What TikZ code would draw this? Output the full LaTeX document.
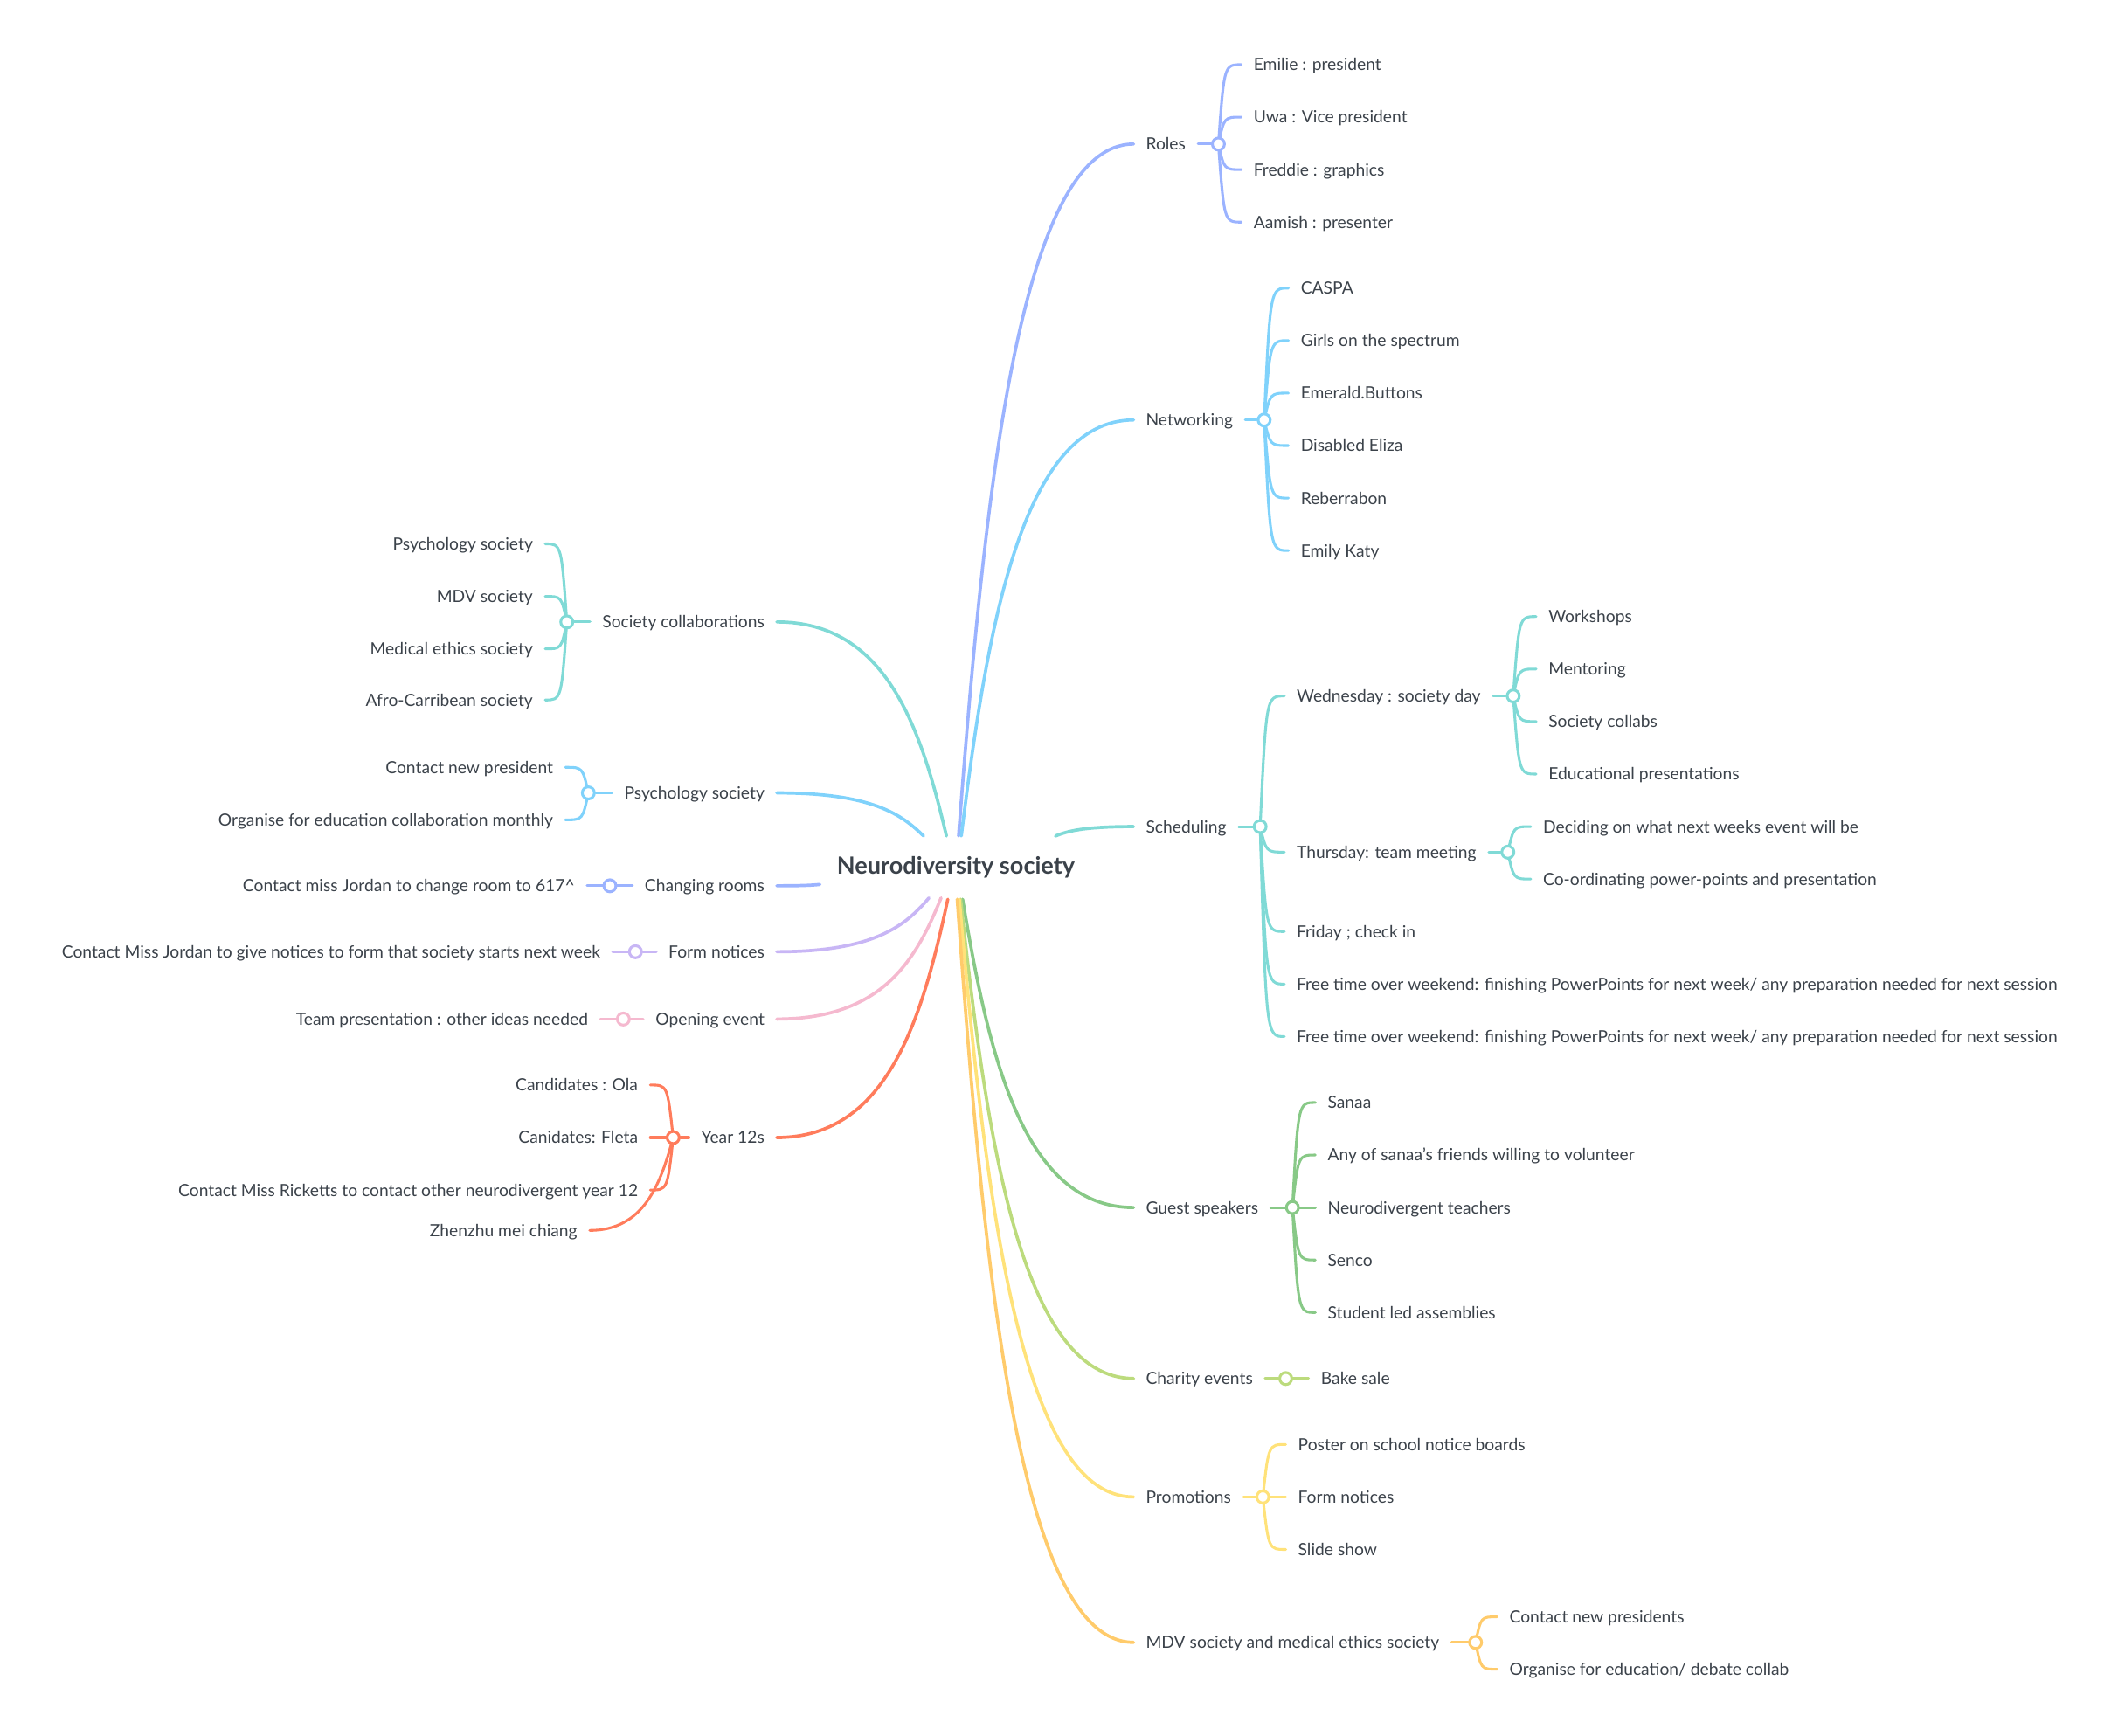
\documentclass[tikz,border=0pt]{standalone}
\usepackage{fontspec}
\setmainfont{Lato}
\usetikzlibrary{calc}
\pgfdeclarelayer{bg}
\pgfsetlayers{bg,main}
\definecolor{cblue}{HTML}{9BB3FF}
\definecolor{csky}{HTML}{80D2FB}
\definecolor{cteal}{HTML}{80DAD6}
\definecolor{cpurple}{HTML}{C8B6F5}
\definecolor{cpink}{HTML}{F5B9CF}
\definecolor{cred}{HTML}{FF7C5C}
\definecolor{cgreen}{HTML}{88C987}
\definecolor{clime}{HTML}{BCDB7D}
\definecolor{cyellow}{HTML}{FFE27A}
\definecolor{corange}{HTML}{FFCB6B}
\definecolor{txtc}{HTML}{3B424A}
\newcommand\mlink[3]{\draw[mainln,#1] let \p1=(#2), \p2=(#3) in (\p1) .. controls ({\x1+0.15*(\x2-\x1)},{\y1+0.5*(\y2-\y1)}) and ({\x1+0.35*(\x2-\x1)},\y2) .. (\p2);}
\newcommand\slink[3]{\draw[brln,#1] let \p1=(#2), \p2=(#3) in (\p1) .. controls ({\x1+0.15*(\x2-\x1)},{\y1+0.5*(\y2-\y1)}) and ({\x1+0.35*(\x2-\x1)},\y2) .. (\p2);}
\newcommand\blink[3]{\draw[brln,#1] let \p1=(#2), \p2=(#3) in (\p1) .. controls ({\x1+0.25*(\x2-\x1)},\y2) .. (\p2);}
\tikzset{
  txt/.style={font=\fontsize{12.5}{14}\selectfont, text=txtc, inner xsep=9pt, inner ysep=2pt, text height=9pt, text depth=0pt},
  rt/.style={txt, anchor=west},
  lt/.style={txt, anchor=east},
  title/.style={font=\fontsize{17.6}{19}\selectfont\bfseries, text=txtc, inner sep=4pt},
  bul/.style={circle, draw=#1, fill=white, line width=2pt, minimum size=9pt, inner sep=0pt},
  mainln/.style={line width=2.4pt, line cap=round},
  brln/.style={line width=2pt, line cap=round}
}
\begin{document}
\begin{tikzpicture}[x=1pt,y=-1pt]
\useasboundingbox (0,0) rectangle (1568,1289);
% centre
\node[title] (c) at (710,644) {Neurodiversity society};
\coordinate (s-roles) at (712,621);
\coordinate (s-net) at (714,621);
\coordinate (s-sched) at (784,621);
\coordinate (s-soc) at (703,621);
\coordinate (s-psy) at (686,621);
\coordinate (s-chg) at (609,657);
\coordinate (s-form) at (690,667);
\coordinate (s-open) at (699,667);
\coordinate (s-y12) at (704,668);
\coordinate (s-mdv) at (711,668);
\coordinate (s-promo) at (712.5,668);
\coordinate (s-char) at (713.5,668);
\coordinate (s-guest) at (715,668);
% right parents
\node[rt] (roles) at (842,107) {Roles};
\node[rt] (net) at (842,312) {Networking};
\node[rt] (sched) at (842,614) {Scheduling};
\node[rt] (guest) at (842,897) {Guest speakers};
\node[rt] (char) at (842,1024) {Charity events};
\node[rt] (promo) at (842,1112) {Promotions};
\node[rt] (mdv) at (842,1220) {MDV society and medical ethics society};
% bullets right
\node[bul=cblue] (rb) at (905,107) {};
\node[bul=csky] (nb) at (939,312) {};
\node[bul=cteal] (sb) at (936,614) {};
\node[bul=cgreen] (gb) at (960,897) {};
\node[bul=clime] (chb) at (955,1024) {};
\node[bul=cyellow] (pb) at (938,1112) {};
\node[bul=corange] (mb) at (1096,1220) {};
% roles children
\node[rt] (r1) at (922,48) {Emilie : president};
\node[rt] (r2) at (922,87) {Uwa : Vice president};
\node[rt] (r3) at (922,126) {Freddie : graphics};
\node[rt] (r4) at (922,165) {Aamish : presenter};
% networking children
\node[rt] (n1) at (957,214) {CASPA};
\node[rt] (n2) at (957,253) {Girls on the spectrum};
\node[rt] (n3) at (957,292) {Emerald.Buttons};
\node[rt] (n4) at (957,331) {Disabled Eliza};
\node[rt] (n5) at (957,370) {Reberrabon};
\node[rt] (n6) at (957,409) {Emily Katy};
% scheduling children
\node[rt] (sc1) at (954,517) {Wednesday : society day};
\node[rt] (sc2) at (954,633) {Thursday: team meeting};
\node[rt] (sc3) at (954,692) {Friday ; check in};
\node[rt] (sc4) at (954,731) {Free time over weekend: finishing PowerPoints for next week/ any preparation needed for next session};
\node[rt] (sc5) at (954,770) {Free time over weekend: finishing PowerPoints for next week/ any preparation needed for next session};
\node[bul=cteal] (wb) at (1124,517) {};
\node[bul=cteal] (tb) at (1120,633) {};
\node[rt] (w1) at (1141,458) {Workshops};
\node[rt] (w2) at (1141,497) {Mentoring};
\node[rt] (w3) at (1141,536) {Society collabs};
\node[rt] (w4) at (1141,575) {Educational presentations};
\node[rt] (t1) at (1137,614) {Deciding on what next weeks event will be};
\node[rt] (t2) at (1137,653) {Co-ordinating power-points and presentation};
% guest speakers children
\node[rt] (g1) at (977,819) {Sanaa};
\node[rt] (g2) at (977,858) {Any of sanaa’s friends willing to volunteer};
\node[rt] (g3) at (977,897) {Neurodivergent teachers};
\node[rt] (g4) at (977,936) {Senco};
\node[rt] (g5) at (977,975) {Student led assemblies};
% charity
\node[rt] (ch1) at (972,1024) {Bake sale};
% promotions
\node[rt] (p1) at (955,1073) {Poster on school notice boards};
\node[rt] (p2) at (955,1112) {Form notices};
\node[rt] (p3) at (955,1151) {Slide show};
% mdv
\node[rt] (m1) at (1112,1201) {Contact new presidents};
\node[rt] (m2) at (1112,1240) {Organise for education/ debate collab};
% left parents
\node[lt] (soc) at (577,462) {Society collaborations};
\node[lt] (psy) at (577,589) {Psychology society};
\node[lt] (chg) at (577,658) {Changing rooms};
\node[lt] (form) at (577,707) {Form notices};
\node[lt] (open) at (577,757) {Opening event};
\node[lt] (y12) at (577,845) {Year 12s};
\node[bul=cteal] (socb) at (421,462) {};
\node[bul=csky] (psyb) at (437,589) {};
\node[bul=cblue] (chgb) at (453,658) {};
\node[bul=cpurple] (formb) at (472,707) {};
\node[bul=cpink] (openb) at (463,757) {};
\node[bul=cred] (y12b) at (500,845) {};
% left children
\node[lt] (so1) at (405,404) {Psychology society};
\node[lt] (so2) at (405,443) {MDV society};
\node[lt] (so3) at (405,482) {Medical ethics society};
\node[lt] (so4) at (405,520) {Afro-Carribean society};
\node[lt] (ps1) at (420,570) {Contact new president};
\node[lt] (ps2) at (420,609) {Organise for education collaboration monthly};
\node[lt] (cg1) at (436,658) {Contact miss Jordan to change room to 617\textasciicircum};
\node[lt] (fo1) at (455,707) {Contact Miss Jordan to give notices to form that society starts next week};
\node[lt] (op1) at (446,757) {Team presentation : other ideas needed};
\node[lt] (y1) at (483,806) {Candidates : Ola};
\node[lt] (y2) at (483,845) {Canidates: Fleta};
\node[lt] (y3) at (483,884) {Contact Miss Ricketts to contact other neurodivergent year 12};
\node[lt] (y4) at (438,914) {Zhenzhu mei chiang};
% connectors
\begin{pgfonlayer}{bg}
\mlink{cblue}{s-roles}{roles.west}
\mlink{csky}{s-net}{net.west}
\mlink{cteal}{s-sched}{sched.west}
\mlink{cgreen}{s-guest}{guest.west}
\mlink{clime}{s-char}{char.west}
\mlink{cyellow}{s-promo}{promo.west}
\mlink{corange}{s-mdv}{mdv.west}
\mlink{cteal}{s-soc}{soc.east}
\mlink{csky}{s-psy}{psy.east}
\mlink{cblue}{s-chg}{chg.east}
\mlink{cpurple}{s-form}{form.east}
\mlink{cpink}{s-open}{open.east}
\mlink{cred}{s-y12}{y12.east}
% stubs
\draw[brln,cblue] (roles.east) -- (rb);
\draw[brln,csky] (net.east) -- (nb);
\draw[brln,cteal] (sched.east) -- (sb);
\draw[brln,cteal] (sc1.east) -- (wb);
\draw[brln,cteal] (sc2.east) -- (tb);
\draw[brln,cgreen] (guest.east) -- (gb);
\draw[brln,clime] (char.east) -- (chb);
\draw[brln,cyellow] (promo.east) -- (pb);
\draw[brln,corange] (mdv.east) -- (mb);
\draw[brln,cteal] (soc.west) -- (socb);
\draw[brln,csky] (psy.west) -- (psyb);
\draw[brln,cblue] (chg.west) -- (chgb);
\draw[brln,cpurple] (form.west) -- (formb);
\draw[brln,cpink] (open.west) -- (openb);
\draw[brln,cred] (y12.west) -- (y12b);
% branches
\foreach \k in {r1,r2,r3,r4} {\blink{cblue}{rb}{\k.west}}
\foreach \k in {n1,n2,n3,n4,n5,n6} {\blink{csky}{nb}{\k.west}}
\foreach \k in {sc1,sc2,sc3,sc4,sc5} {\blink{cteal}{sb}{\k.west}}
\foreach \k in {w1,w2,w3,w4} {\blink{cteal}{wb}{\k.west}}
\foreach \k in {t1,t2} {\blink{cteal}{tb}{\k.west}}
\foreach \k in {g1,g2,g3,g4,g5} {\blink{cgreen}{gb}{\k.west}}
\blink{clime}{chb}{ch1.west}
\foreach \k in {p1,p2,p3} {\blink{cyellow}{pb}{\k.west}}
\foreach \k in {m1,m2} {\blink{corange}{mb}{\k.west}}
\foreach \k in {so1,so2,so3,so4} {\blink{cteal}{socb}{\k.east}}
\foreach \k in {ps1,ps2} {\blink{csky}{psyb}{\k.east}}
\blink{cblue}{chgb}{cg1.east}
\blink{cpurple}{formb}{fo1.east}
\blink{cpink}{openb}{op1.east}
\foreach \k in {y1,y2,y3} {\blink{cred}{y12b}{\k.east}}
\slink{cred}{y12b}{y4.east}
\end{pgfonlayer}
\end{tikzpicture}
\end{document}
